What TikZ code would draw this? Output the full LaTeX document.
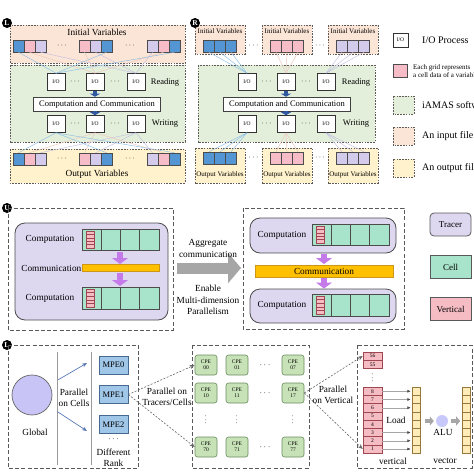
\documentclass[tikz,border=0pt]{standalone}
\usepackage{fontspec}
\setmainfont{Liberation Serif}
\usetikzlibrary{arrows.meta}

\definecolor{gridB}{RGB}{84,150,212}
\definecolor{gridP}{RGB}{246,189,200}
\definecolor{gridV}{RGB}{212,202,236}
\definecolor{linkB}{RGB}{140,190,230}
\definecolor{linkP}{RGB}{238,196,186}
\definecolor{linkV}{RGB}{196,190,226}
\definecolor{inFill}{RGB}{251,229,214}
\definecolor{outFill}{RGB}{255,242,204}
\definecolor{swFill}{RGB}{227,239,219}
\definecolor{boxLine}{RGB}{95,90,85}
\definecolor{ioBlue}{RGB}{47,88,160}
\definecolor{trFill}{RGB}{222,215,240}
\definecolor{cellFill}{RGB}{168,228,204}
\definecolor{vertFill}{RGB}{245,188,196}
\definecolor{vertLine}{RGB}{160,70,80}
\definecolor{commFill}{RGB}{255,192,0}
\definecolor{commLine}{RGB}{205,150,20}
\definecolor{purArrow}{RGB}{196,122,232}
\definecolor{bigGray}{RGB}{166,166,166}
\definecolor{globFill}{RGB}{200,196,246}
\definecolor{mpeFill}{RGB}{160,198,232}
\definecolor{mpeLine}{RGB}{70,105,145}
\definecolor{cpeFill}{RGB}{200,226,184}
\definecolor{cpeLine}{RGB}{105,140,95}
\definecolor{vecFill}{RGB}{255,236,185}
\definecolor{vecLine}{RGB}{150,120,60}
\definecolor{aluFill}{RGB}{200,200,250}

\tikzset{
  tag/.style={circle, fill=black, text=white, inner sep=0pt, minimum size=10pt, font=\bfseries\fontsize{7.5}{7.5}\selectfont},
  io/.style={draw=black!80, fill=white, minimum width=18pt, minimum height=17pt, inner sep=0pt, line width=0.6pt, font=\fontsize{5.5}{6}\selectfont},
  gcell/.style={draw=black!70, line width=0.5pt, minimum width=11pt, minimum height=12pt, inner sep=0pt},
  infile/.style={draw=boxLine, fill=inFill, line width=0.8pt, dash pattern=on 1.6pt off 1.2pt},
  outfile/.style={infile, fill=outFill},
  software/.style={infile, fill=swFill},
  flowline/.style={line width=0.45pt},
  comp/.style={draw=black!75, fill=white, line width=0.6pt, minimum width=127pt, minimum height=14pt, inner sep=1pt, font=\fontsize{8.5}{9}\selectfont},
  txt/.style={inner sep=0.5pt, font=\fontsize{8.5}{9}\selectfont},
  small/.style={inner sep=0.5pt, font=\fontsize{7}{7.5}\selectfont},
  midtxt/.style={inner sep=0.5pt, align=center, font=\fontsize{9.3}{11.3}\selectfont},
  vdot/.style={inner sep=0pt, rotate=90, font=\fontsize{8}{8}\selectfont},
  leg/.style={anchor=west, inner sep=0pt, font=\fontsize{10}{11}\selectfont},
  ioarrow/.style={draw=ioBlue, line width=3.5pt, -{Triangle[width=10pt,length=3pt]}},
  panel/.style={draw=black!65, line width=0.8pt, dash pattern=on 4pt off 2.2pt},
  tracer/.style={draw=black!70, fill=trFill, line width=0.8pt, rounded corners=10pt},
  cellbox/.style={draw=black!70, fill=cellFill, line width=0.6pt},
  stack/.style={draw=vertLine, fill=vertFill, line width=0.5pt},
  commbar/.style={draw=commLine, fill=commFill, line width=0.6pt},
  purarrow/.style={draw=purArrow, line width=6pt, -{Triangle[width=16pt,length=6pt]}},
  bigarrow/.style={draw=bigGray, line width=11pt, -{Triangle[width=30pt,length=13pt]}},
  legbox/.style={draw=black!65, line width=0.8pt, minimum width=41pt, minimum height=23pt, font=\fontsize{9}{10}\selectfont},
  divider/.style={draw=black!40, line width=0.8pt},
  globc/.style={circle, draw=black!60, fill=globFill, minimum size=40pt, line width=0.7pt},
  mpe/.style={draw=mpeLine, fill=mpeFill, minimum width=29pt, minimum height=18pt, inner sep=0pt, line width=0.6pt, font=\fontsize{8.5}{9}\selectfont},
  bluearr/.style={draw=ioBlue!80, line width=0.7pt, -{Stealth[length=5pt,width=4pt]}},
  dasharr/.style={draw=black!60, line width=0.6pt, dash pattern=on 2pt off 1.5pt, -{Stealth[length=5pt,width=4pt]}},
  cpe/.style={draw=cpeLine, fill=cpeFill, rounded corners=2.5pt, minimum width=22pt, minimum height=20pt, inner sep=0pt, align=center, font=\fontsize{5.5}{6}\selectfont, line width=0.6pt},
  vcell/.style={draw=vertLine, fill=vertFill, minimum width=19pt, minimum height=8.25pt, inner sep=0pt, line width=0.5pt, font=\fontsize{5.5}{6}\selectfont},
  vec/.style={draw=vecLine, fill=vecFill, minimum width=8pt, minimum height=8.25pt, inner sep=0pt, line width=0.5pt},
  loadarr/.style={draw=black!35, line width=0.5pt, -{Latex[length=3.5pt,width=3pt,color=black!70]}},
  grayblk/.style={draw=bigGray, line width=4pt, -{Triangle[width=9pt,length=4pt]}},
  alu/.style={circle, fill=aluFill, minimum size=12pt, inner sep=0pt}
}

\begin{document}
\begin{tikzpicture}[x=1pt,y=-1pt]
  \useasboundingbox (0,0) rectangle (474,474);
  \clip (0,0) rectangle (474,474);

  \draw[infile] (10,25) rectangle (185,63);
  \draw[software] (10,65) rectangle (185,142);
  \draw[outfile] (10,149) rectangle (185,183);
  \node[txt, font=\fontsize{9.3}{10}\selectfont] (initL) at (97,32.5) {Initial Variables};
  \node[txt, font=\fontsize{9.3}{10}\selectfont] (outL) at (97,174) {Output Variables};
  \foreach \c/\x in {B/56,P/95,V/136}{
    \node[io] (rdL-\c) at (\x,82) {I/O};
    \node[io] (wrL-\c) at (\x,124) {I/O};
  }
  \foreach \x [count=\n] in {75,115}{
    \node[txt] (rdL-dots-\n) at (\x,82) {$\cdots$};
    \node[txt] (wrL-dots-\n) at (\x,124) {$\cdots$};
  }
  \foreach \x [count=\n] in {62,130}{
    \node[txt] (iL-dots-\n) at (\x,46) {$\cdots$};
    \node[txt] (oL-dots-\n) at (\x,159) {$\cdots$};
  }
  \node[txt] (rdL) at (165,82) {Reading};
  \node[txt] (wrL) at (165,124) {Writing};
  \node[comp] (ccL) at (97,104) {Computation and Communication};
  \draw[ioarrow] (rdL-P.south) -- (rdL-P.south |- ccL.north);
  \draw[ioarrow] (rdL-P.south |- ccL.south) -- (wrL-P.north);
  \foreach \g/\x/\cols in {1/13/{B,P,V},2/79/{P,V,B},3/147/{V,P,B}}{
    \foreach \c [count=\i] in \cols{
      \node[gcell, fill=grid\c] (iL-\g-\i) at ({\x+11*\i-5.5},46) {};
      \node[gcell, fill=grid\c] (oL-\g-\i) at ({\x+11*\i-5.5},159) {};
      \draw[flowline, draw=link\c] (iL-\g-\i.south) -- (rdL-\c.north);
      \draw[flowline, draw=link\c] (wrL-\c.south) -- (oL-\g-\i.north);
    }
  }

  \draw[software] (198,65) rectangle (375,142);
  \foreach \c/\x/\y in {B/220/247,P/287/286,V/353/326}{
    \draw[infile] ({\x-25},25) rectangle ({\x+25},54);
    \draw[outfile] ({\x-25},148) rectangle ({\x+25},183);
    \node[small] (iR-\c) at (\x,31.5) {Initial Variables};
    \node[small] (oR-\c) at (\x,175) {Output Variables};
    \node[io] (rdR-\c) at (\y,82) {I/O};
    \node[io] (wrR-\c) at (\y,124) {I/O};
    \foreach \i in {1,2,3}{
      \node[gcell, fill=grid\c] (iR-\c-\i) at ({\x+11*\i-22},46) {};
      \node[gcell, fill=grid\c] (oR-\c-\i) at ({\x+11*\i-22},158) {};
      \draw[flowline, draw=link\c] (iR-\c-\i.south) -- (rdR-\c.north);
      \draw[flowline, draw=link\c] (wrR-\c.south) -- (oR-\c-\i.north);
    }
  }
  \foreach \x [count=\n] in {253.5,320}{
    \node[txt] (iR-dots-\n) at (\x,46) {$\cdots$};
    \node[txt] (oR-dots-\n) at (\x,158) {$\cdots$};
  }
  \foreach \x [count=\n] in {266.5,306}{
    \node[txt] (rdR-dots-\n) at (\x,82) {$\cdots$};
    \node[txt] (wrR-dots-\n) at (\x,124) {$\cdots$};
  }
  \node[txt] (rdR) at (356,82) {Reading};
  \node[txt] (wrR) at (356,124) {Writing};
  \node[comp] (ccR) at (287,104) {Computation and Communication};
  \draw[ioarrow] (rdR-P.south) -- (rdR-P.south |- ccR.north);
  \draw[ioarrow] (rdR-P.south |- ccR.south) -- (wrR-P.north);

  \node[io, minimum width=15pt, minimum height=14pt] (lgIO) at (400.5,40) {I/O};
  \node[leg] (lgIOt) at (422,40) {I/O Process};
  \node[gcell, fill=gridP, minimum width=14pt, minimum height=13pt] (lgGrid) at (400.5,71) {};
  \node[leg, align=left, font=\fontsize{7}{8}\selectfont] (lgGridt) at (413,71) {Each grid represents\\a cell data of a variable};
  \draw[software] (393,96) rectangle (414,114);
  \node[leg] (lgSw) at (422,105) {iAMAS software};
  \draw[infile] (393,127) rectangle (414,145);
  \node[leg] (lgIn) at (422,136) {An input file};
  \draw[outfile] (393,159) rectangle (414,177);
  \node[leg] (lgOut) at (422,168) {An output file};

  \node[tag] (tagL) at (7,23) {L};
  \node[tag] (tagR) at (195,23) {R};
  \node[tag] (tagU) at (7,208) {U};
  \node[tag] (tagL2) at (7,345) {L};

  \draw[panel] (8,208) rectangle (173,330);
  \draw[tracer] (15,223) rectangle (168,320);
  \draw[panel] (243,208) rectangle (404,329);
  \draw[tracer] (250,218) rectangle (396,253);
  \draw[tracer] (250,289) rectangle (396,323);
  \foreach \rx/\ry/\rh in {82/229/21,82/287/22,312/224/21,312/294/22}{
    \foreach \k in {0,...,3}
      \draw[cellbox] ({\rx+19.25*\k},\ry) rectangle ++(19.25,\rh);
    \draw[stack] ({\rx+4.5},{\ry+2}) rectangle ({\rx+12},{\ry+\rh-2});
    \foreach \m in {1,...,4}
      \draw[vertLine, line width=0.4pt] ({\rx+4.5},{\ry+2+\m*(\rh-4)/5}) -- ++(7.5,0);
  }
  \node[midtxt] (cmpU1) at (50,239.5) {Computation};
  \node[midtxt] (cmpU2) at (50,298) {Computation};
  \node[midtxt, anchor=east] (comU) at (82,268) {Communication};
  \draw[commbar] (82,264.5) rectangle (159,271.5);
  \draw[purarrow] (120,252) -- (120,264);
  \draw[purarrow] (120,273) -- (120,286);
  \node[midtxt] (cmpV1) at (282,235) {Computation};
  \node[midtxt] (cmpV2) at (282,305) {Computation};
  \draw[purarrow] (324,254) -- (324,264);
  \draw[commbar] (255,265) rectangle (393,277);
  \node[midtxt] (comV) at (324,271) {Communication};
  \draw[purarrow] (324,278) -- (324,288.5);
  \coordinate (uL) at (173,268);
  \coordinate (uR) at (243,268);
  \draw[bigarrow, shorten <=4pt, shorten >=2pt] (uL) -- (uR);
  \node[midtxt] (aggT) at (208,248.5) {Aggregate\\communication};
  \node[midtxt] (enaT) at (208,300) {Enable\\Multi-dimension\\Parallelism};
  \node[legbox, fill=trFill, rounded corners=4pt] (lgTr) at (450.5,224.5) {Tracer};
  \node[legbox, fill=cellFill] (lgCell) at (450.5,267) {Cell};
  \node[legbox, fill=vertFill] (lgVert) at (450.5,309) {Vertical};

  \draw[panel] (8,345) rectangle (138,468);
  \draw[panel] (192,345) rectangle (309,468);
  \draw[panel] (357,345) rectangle (472,468);
  \node[globc] (glob) at (32,395) {};
  \node[midtxt] (globT) at (35,432) {Global};
  \draw[divider] (57,352) -- (57,465);
  \draw[divider] (91,352) -- (91,465);
  \node[mpe] (mpe0) at (113.5,365) {MPE0};
  \node[mpe] (mpe1) at (113.5,394.5) {MPE1};
  \node[mpe] (mpe2) at (113.5,424.5) {MPE2};
  \node[midtxt] (mpeDots) at (113.5,439) {$\cdots$};
  \node[midtxt] (rankT) at (113.5,457.5) {Different\\Rank};
  \coordinate (toMpe0) at (87,363);
  \coordinate (toMpe2) at (87,431);
  \draw[bluearr, shorten <=10pt] (glob) -- (toMpe0);
  \draw[bluearr, shorten <=10pt] (glob) -- (toMpe2);
  \node[midtxt] (parCells) at (74,397.5) {Parallel\\on Cells};

  \foreach \ri/\y in {0/365,1/393,7/447}
    \foreach \ci/\x in {0/206,1/237,7/293}
      \node[cpe] (cpe\ri\ci) at (\x,\y) {CPE\\\ri\ci};
  \foreach \y [count=\n] in {365,393,447}
    \node[midtxt] (cpeDots\n) at (265,\y) {$\cdots$};
  \foreach \x [count=\n] in {206,237,293}
    \node[vdot] (cpeVd\n) at (\x,420) {$\cdots$};
  \node[midtxt] (parTC) at (167,397) {Parallel on\\Tracers/Cells};

  \node[vcell] (v56) at (372.5,356) {56};
  \node[vcell] (v55) at (372.5,364.25) {55};
  \node[vdot] (vDots) at (372.5,378) {$\cdots$};
  \foreach \k in {1,...,8}{
    \node[vcell] (v\k) at (372.5,{449-8.25*(\k-1)}) {\k};
    \node[vec] (va\k) at (416,{449-8.25*(\k-1)}) {};
    \node[vec] (vb\k) at (466.5,{449-8.25*(\k-1)}) {};
  }
  \foreach \k in {1,2,3,6,7,8}
    \draw[loadarr, shorten >=1pt] (v\k.east) -- (va\k.west);
  \draw[dasharr] (mpe1.east) -- (cpe00.west);
  \draw[dasharr] (mpe1.east) -- (cpe70.west);
  \draw[dasharr] (cpe17.east) -- (v56.west);
  \draw[dasharr] (cpe17.east) -- (v1.west);
  \node[midtxt] (parV) at (333,394.5) {Parallel\\on Vertical};
  \node[midtxt] (loadT) at (396,420) {Load};
  \node[alu] (alu) at (442,421) {};
  \node[midtxt] (aluT) at (443,432.5) {ALU};
  \draw[grayblk] ([xshift=-11pt]alu.west) -- ([xshift=-2pt]alu.west);
  \draw[grayblk] ([xshift=3pt]alu.east) -- ([xshift=12pt]alu.east);
  \node[midtxt] (vertT) at (393,461) {vertical};
  \node[midtxt] (vecT) at (445,461) {vector};

\end{tikzpicture}
\end{document}
